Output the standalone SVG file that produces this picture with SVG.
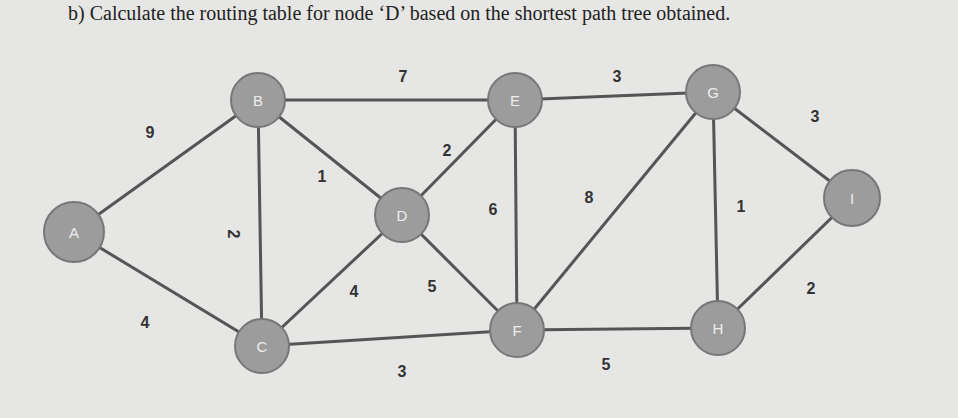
<svg xmlns="http://www.w3.org/2000/svg" width="958" height="418" viewBox="0 0 958 418">
<style>
.e{stroke:#555;stroke-width:3;fill:none}
.n circle{fill:#9c9c9c;stroke:#777;stroke-width:2}
.n text{font-family:"Liberation Sans",sans-serif;font-size:15px;fill:#eee;text-anchor:middle}
.w{font-family:"Liberation Sans",sans-serif;font-size:16px;font-weight:bold;fill:#333;text-anchor:middle}
.t{font-family:"Liberation Serif",serif;font-size:20px;fill:#222}
</style>
<rect width="958" height="418" fill="#e6e6e4"/>
<text class="t" x="68" y="20">b)   Calculate the routing table for node ‘D’ based on the shortest path tree obtained.</text>
<g id="edges">
<line class="e" x1="74" y1="232" x2="258" y2="100"/>
<line class="e" x1="74" y1="232" x2="262" y2="346"/>
<line class="e" x1="258" y1="100" x2="262" y2="346"/>
<line class="e" x1="258" y1="100" x2="515" y2="100"/>
<line class="e" x1="258" y1="100" x2="402" y2="215"/>
<line class="e" x1="402" y1="215" x2="515" y2="100"/>
<line class="e" x1="402" y1="215" x2="262" y2="346"/>
<line class="e" x1="402" y1="215" x2="517" y2="330"/>
<line class="e" x1="262" y1="346" x2="517" y2="330"/>
<line class="e" x1="515" y1="100" x2="517" y2="330"/>
<line class="e" x1="515" y1="100" x2="713" y2="92"/>
<line class="e" x1="517" y1="330" x2="713" y2="92"/>
<line class="e" x1="517" y1="330" x2="718" y2="328"/>
<line class="e" x1="713" y1="92" x2="718" y2="328"/>
<line class="e" x1="713" y1="92" x2="852" y2="198"/>
<line class="e" x1="718" y1="328" x2="852" y2="198"/>
</g>
<g id="weights">
<text class="w" x="150" y="138">9</text>
<text class="w" x="145" y="328">4</text>
<text class="w" x="234" y="240" transform="rotate(90 234 234)">2</text>
<text class="w" x="403" y="82">7</text>
<text class="w" x="322" y="182">1</text>
<text class="w" x="447" y="156">2</text>
<text class="w" x="354" y="297">4</text>
<text class="w" x="432" y="292">5</text>
<text class="w" x="402" y="377">3</text>
<text class="w" x="493" y="215">6</text>
<text class="w" x="617" y="82">3</text>
<text class="w" x="589" y="203">8</text>
<text class="w" x="606" y="370">5</text>
<text class="w" x="741" y="212">1</text>
<text class="w" x="815" y="122">3</text>
<text class="w" x="811" y="294">2</text>
</g>
<g id="A" class="n"><circle cx="74" cy="232" r="30"/><text x="74" y="238">A</text></g>
<g id="B" class="n"><circle cx="258" cy="100" r="27"/><text x="258" y="106">B</text></g>
<g id="C" class="n"><circle cx="262" cy="346" r="27"/><text x="262" y="352">C</text></g>
<g id="D" class="n"><circle cx="402" cy="215" r="27"/><text x="402" y="221">D</text></g>
<g id="E" class="n"><circle cx="515" cy="100" r="27"/><text x="515" y="106">E</text></g>
<g id="F" class="n"><circle cx="517" cy="330" r="27"/><text x="517" y="336">F</text></g>
<g id="G" class="n"><circle cx="713" cy="92" r="27"/><text x="713" y="98">G</text></g>
<g id="H" class="n"><circle cx="718" cy="328" r="27"/><text x="718" y="334">H</text></g>
<g id="I" class="n"><circle cx="852" cy="198" r="28"/><text x="852" y="204">I</text></g>
</svg>
